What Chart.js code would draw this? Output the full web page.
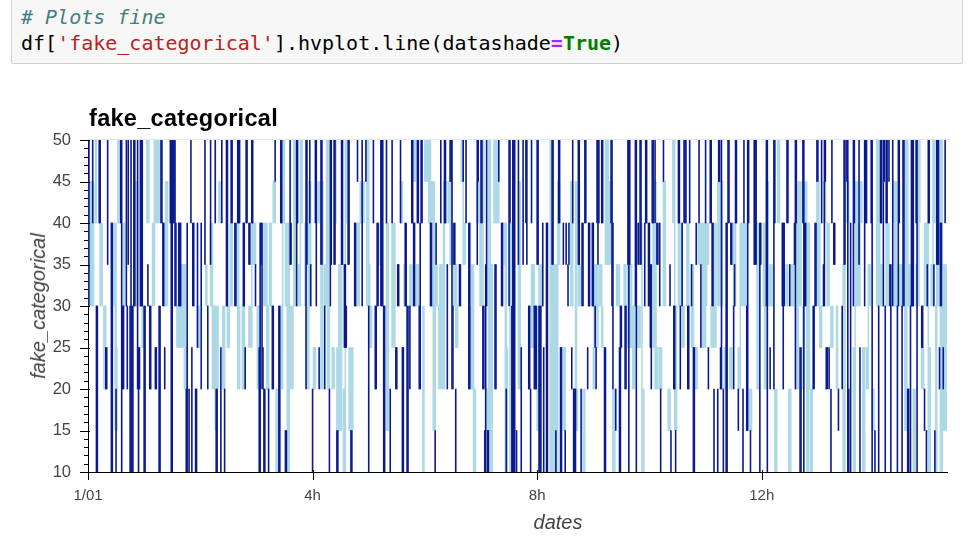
<!DOCTYPE html>
<html><head><meta charset="utf-8">
<script src="https://cdn.jsdelivr.net/npm/chart.js@4/dist/chart.umd.min.js"></script>
<style>
html,body{margin:0;padding:0;background:#fff;width:974px;height:546px;overflow:hidden;position:relative;}
#cell{position:absolute;left:11px;top:-12px;width:950px;height:74px;background:#f7f7f7;border:1px solid #cfcfcf;border-radius:2px;}
.code{position:absolute;left:9px;font-family:"DejaVu Sans Mono",monospace;font-size:20px;white-space:pre;color:#000;line-height:26px;}
#l1{top:15px;color:#408080;font-style:italic;}
#l2{top:41px;}
.s{color:#BA2121}.o{color:#AA22FF;font-weight:bold}.k{color:#008000;font-weight:bold}
#title{position:absolute;left:89px;top:106px;font-family:"Liberation Sans",Arial,sans-serif;font-weight:bold;font-size:23.5px;letter-spacing:.3px;line-height:24px;color:#000;white-space:nowrap;}
.axl{position:absolute;font-family:"Liberation Sans",Arial,sans-serif;font-style:italic;font-size:20px;color:#444;white-space:nowrap;line-height:22px;}
#ylab{left:38px;top:306px;transform:translate(-50%,-50%) rotate(-90deg);}
#xlab{left:558px;top:522px;transform:translate(-50%,-50%);}
canvas{position:absolute;left:0;top:0;}
</style></head>
<body>
<div id="cell"><div class="code" id="l1"># Plots fine</div><div class="code" id="l2">df[<span class="s">'fake_categorical'</span>].hvplot.line(datashade<span class="o">=</span><span class="k">True</span>)</div></div>
<canvas id="c" width="974" height="546"></canvas>
<div id="title">fake_categorical</div>
<div class="axl" id="ylab">fake_categorical</div>
<div class="axl" id="xlab">dates</div>
<script>
// x axis: minutes since 1/01 00:00
const xMaxMinutes = 918;
const xTickMinutes = [0, 240, 480, 720];
const xTickLabels = ['1/01', '4h', '8h', '12h'];
const yTickValues = [10, 15, 20, 25, 30, 35, 40, 45, 50];

// vertical strokes where the line passed once (light): [startMinute, minutes, low, high]
const lightRuns = [
[1,6,30,45],[8,2,40,50],[13,3,30,40],[17,3,20,30],[28,3,30,40],[29,3,15,25],[32,3,40,50],[38,2,30,40],[51,3,30,45],[58,2,25,30],[63,3,40,50],[69,3,30,40],[71,6,40,50],[83,3,30,45],[95,7,25,30],[99,6,25,35],[103,3,20,25],[117,3,25,30],[126,2,30,35],[131,3,30,40],[133,7,20,30],[136,1,15,20],[140,3,40,45],[144,3,20,30],[149,3,25,30],
[198,3,40,45],[208,3,40,50],[220,3,30,50],[227,3,40,50],[236,3,30,45],[246,6,40,45],[255,3,40,50],[264,2,40,50],[275,2,40,50],[291,5,40,45],[298,3,40,50],
[152,3,30,40],[159,3,30,40],[175,5,35,40],[188,4,30,40],[194,3,30,40],[211,5,30,40],[225,3,30,35],[232,3,30,40],[253,3,30,35],[268,4,30,35],[288,3,30,40],[298,4,30,35],
[160,3,20,30],[165,3,20,30],[172,4,25,30],[181,3,20,30],[191,3,20,30],[201,3,10,20],[207,2,20,30],[213,3,10,20],[216,4,20,30],[234,3,20,30],[241,3,20,25],[249,3,20,30],[256,3,20,30],[261,3,20,25],[266,6,15,25],[273,3,10,20],[279,5,15,25],[301,3,25,30],
[334,3,40,45],[347,4,45,50],[360,7,45,50],[364,7,40,45],[380,4,40,45],[385,5,40,45],[399,3,45,50],[416,3,40,45],[421,3,40,50],[428,3,40,50],[434,6,40,50],
[310,2,35,40],[319,3,15,40],[325,4,25,40],[338,3,30,35],[344,3,30,35],[351,3,30,35],[368,3,30,40],[371,3,30,35],[376,6,20,35],[387,3,35,40],[391,4,30,35],[401,3,35,40],[410,3,30,35],[419,4,30,40],[428,5,30,35],[445,3,35,40],[451,3,35,40],
[358,2,10,30],[369,3,15,25],[375,5,20,30],[393,3,25,30],[409,3,20,30],[412,3,10,20],[426,4,15,20],[430,3,10,30],[446,3,10,25],[451,3,10,25],
[460,3,20,45],[494,3,40,50],[502,3,35,45],[516,3,30,45],[521,2,40,45],[553,4,35,50],[557,4,35,45],[605,3,35,45],
[474,4,25,35],[482,4,30,35],[494,9,10,35],[524,3,30,35],[541,5,25,35],[547,3,30,35],[565,4,30,35],[573,3,30,35],[577,5,25,35],[587,4,25,30],[591,2,35,40],[604,3,25,40],
[480,3,15,30],[508,3,15,25],[521,3,15,20],[529,3,10,20],[540,2,20,25],[549,2,25,30],[561,3,10,20],[582,3,20,30],[592,3,10,20],[606,4,20,25],
[615,3,30,45],[625,3,40,50],[673,6,30,45],[725,3,40,45],[737,3,40,50],[759,4,30,45],
[631,4,30,40],[640,3,30,40],[645,3,25,35],[652,12,35,40],[657,5,30,35],[670,2,30,40],[690,3,30,40],[697,7,30,40],[715,3,30,40],[722,3,30,40],[727,5,30,35],[746,3,30,35],[752,3,30,35],[757,3,30,40],
[611,3,20,25],[620,3,15,20],[627,3,15,30],[635,3,25,30],[649,3,20,25],[657,4,25,30],[666,6,25,30],[680,4,20,25],[686,3,20,25],[695,3,20,25],[707,3,15,20],[715,3,20,25],[723,3,20,30],[734,3,10,20],[749,3,10,20],[757,3,20,25],
[766,3,30,45],[779,3,40,45],[786,3,40,45],[811,3,40,45],[820,3,40,45],[825,3,40,45],[843,4,30,50],[861,4,40,45],[873,4,40,50],[887,3,40,50],[903,3,40,50],[911,3,40,50],
[768,4,20,40],[778,5,30,40],[790,3,30,40],[794,3,25,30],[800,2,20,30],[807,3,30,35],[821,5,30,40],[834,3,30,35],[846,5,30,35],[853,4,30,40],[862,9,30,35],[873,7,30,35],[885,4,30,35],[894,5,30,40],[901,3,30,35],[907,3,30,40],[914,4,15,35],
[764,2,20,30],[768,3,10,20],[772,3,10,20],[782,3,25,30],[807,3,10,20],[818,3,10,25],[828,3,10,25],[832,3,20,25],[838,3,15,20],[873,3,15,25],[882,3,10,20],[891,3,20,25],[898,3,10,25],[906,2,10,30],[911,3,10,20]
];

// vertical strokes where the line overlapped itself (dark): [startMinute, minutes, low, high]
const darkRuns = [
[1,1,30,50],[5,1,40,50],[9,2,10,30],[12,2,40,50],[19,2,20,25],[21,1,35,50],[25,2,10,40],[30,1,10,20],[35,2,40,50],[36,1,10,20],[37,2,20,30],[41,1,30,50],[42,1,20,30],[43,1,35,50],[45,4,10,30],[46,1,40,50],[49,2,30,50],[53,3,20,25],[54,1,10,20],[53,1,40,50],[56,3,30,50],[60,2,10,30],[64,1,30,35],[66,2,20,30],[72,2,20,25],[76,2,10,30],[78,2,40,50],[80,2,30,40],[82,1,20,25],[88,6,40,50],[89,2,10,30],[93,2,30,40],[97,3,30,40],[105,2,10,20],[106,1,35,40],[108,1,10,20],[110,1,40,50],[111,1,10,25],[112,2,30,40],[115,2,10,20],[117,1,25,40],[121,1,20,40],[125,1,35,50],[128,1,20,30],[131,1,35,50],[136,1,40,50],[137,2,10,20],[142,1,10,25],[143,1,40,50],[146,1,10,20],[148,2,30,50],
[153,2,40,50],[160,3,40,50],[169,2,40,50],[175,2,40,50],[200,1,45,50],[206,2,40,50],[216,1,35,50],[223,2,40,50],[233,2,35,50],[237,1,40,50],[243,2,40,50],[249,2,35,50],[259,2,35,50],[263,2,35,50],[271,2,35,50],[278,2,35,50],[288,1,45,50],[293,1,30,50],[297,1,45,50],
[157,2,30,40],[166,2,30,40],[172,2,35,40],[179,1,30,35],[184,3,35,40],[217,1,35,40],[223,1,30,35],[238,1,30,35],[244,1,30,35],[259,1,30,35],[274,2,25,35],[285,2,30,40],
[168,1,20,25],[183,2,10,25],[186,2,20,25],[188,2,10,20],[193,1,10,20],[197,2,20,30],[204,2,10,30],[211,2,10,15],[233,1,20,30],[240,1,10,20],[247,1,20,25],[253,1,20,30],[258,1,10,20],[266,2,10,15],[275,2,25,30],[281,2,10,15],[300,1,10,30],
[305,1,40,50],[313,3,30,50],[319,1,40,50],[325,1,40,50],[334,1,40,50],[346,2,40,50],[352,2,40,50],[356,2,40,50],[377,1,40,50],[381,2,40,50],[387,3,45,50],[401,1,45,50],[404,1,40,50],[416,2,45,50],[420,2,40,50],[426,1,45,50],[439,1,45,50],[450,2,40,50],[454,3,30,50],
[309,2,30,40],[331,2,30,35],[339,2,30,40],[348,2,30,40],[355,1,35,40],[366,2,30,40],[372,1,35,40],[384,1,30,35],[391,2,35,40],[397,2,30,35],[407,2,35,40],[416,1,35,40],[425,2,30,35],[435,2,30,35],[442,2,30,40],[450,1,30,35],
[307,2,20,30],[316,2,10,30],[323,1,10,20],[329,2,20,25],[336,2,10,25],[341,2,10,30],[344,1,20,30],[354,2,20,30],[371,1,10,15],[384,1,20,30],[389,2,20,30],[393,1,10,20],[407,2,20,30],[422,2,20,30],[424,2,10,15],[427,2,10,15],[435,2,20,30],[447,1,10,20],[453,4,10,30],
[460,1,35,50],[465,1,35,50],[468,2,40,50],[474,1,40,50],[480,2,35,50],[496,2,35,50],[503,2,40,50],[518,1,40,50],[524,2,35,50],[531,2,40,50],[544,3,40,50],[549,2,40,50],[559,2,40,50],[577,3,35,50],[585,2,40,50],[590,2,35,50],[596,2,40,50],[603,2,40,50],[606,1,40,50],
[469,1,35,40],[481,1,35,40],[486,1,30,40],[490,2,25,40],[508,1,35,40],[511,1,35,40],[513,1,30,35],[514,1,35,40],[528,2,30,40],[535,2,30,40],[539,2,30,40],[542,1,25,30],[545,1,35,40],[560,2,30,40],[569,2,25,30],[574,2,20,30],[585,1,30,35],[588,1,35,40],[595,1,30,40],[599,2,30,40],[601,2,25,35],[608,2,35,40],
[458,1,10,15],[463,1,10,25],[471,2,20,30],[473,1,10,20],[477,3,20,30],[482,3,10,30],[487,1,10,25],[490,2,10,30],[500,1,10,15],[505,2,10,25],[510,1,10,15],[517,1,20,25],[519,3,10,20],[527,1,10,20],[534,1,20,25],[543,1,20,25],[552,2,10,25],[561,1,20,25],[564,1,15,20],[568,2,10,25],[578,1,10,25],[586,1,10,20],[602,1,20,25],
[615,1,45,50],[631,2,40,50],[637,3,40,50],[643,1,40,50],[653,1,40,50],[660,1,40,50],[665,2,40,50],[674,2,45,50],[677,1,40,50],[684,2,40,50],[692,2,40,50],[701,1,40,50],[705,2,40,50],[712,3,35,50],[725,2,45,50],[733,2,40,50],[747,2,40,50],[756,2,40,50],
[611,1,30,40],[622,1,30,35],[635,1,30,40],[645,1,30,35],[650,1,35,40],[655,1,30,35],[667,2,30,40],[682,2,30,40],[687,2,35,40],[691,1,30,35],[705,1,30,35],[718,2,35,40],[725,1,30,35],[733,1,30,40],[742,3,30,40],[750,1,30,35],[755,2,35,40],
[612,1,10,20],[623,1,10,15],[626,2,20,30],[628,1,10,15],[633,1,20,30],[641,2,20,30],[647,2,10,25],[655,1,25,30],[663,1,20,25],[669,1,10,20],[673,1,10,20],[676,2,20,25],[679,1,10,20],[682,2,10,30],[690,1,20,30],[695,1,15,20],[700,1,10,20],[704,2,15,30],[708,1,10,15],[718,1,10,20],[726,1,10,20],[729,1,20,25],[733,1,20,25],[743,1,20,25],[756,1,20,25],[761,2,10,25],
[764,2,40,50],[779,2,45,50],[784,1,40,50],[787,2,45,50],[795,1,40,50],[808,2,35,50],[811,2,45,50],[818,2,40,50],[824,1,35,50],[830,3,40,50],[837,2,40,50],[847,2,40,50],[850,2,45,50],[853,2,40,50],[856,1,45,50],[860,1,30,50],[866,2,40,50],[871,2,30,50],[880,3,30,50],[885,2,40,50],[898,2,40,50],[907,3,35,50],[916,1,40,50],
[766,2,30,40],[777,2,30,40],[786,2,30,35],[797,2,35,40],[806,1,20,30],[815,1,10,40],[818,1,30,35],[830,1,30,40],[850,1,30,35],[857,2,30,35],[866,1,30,35],[882,1,30,35],[891,2,25,30],[897,1,30,35],[904,1,30,35],[911,2,30,40],
[765,1,10,20],[775,2,20,30],[789,2,20,25],[792,1,20,25],[794,1,10,20],[802,1,15,20],[812,2,10,20],[825,1,10,25],[838,1,10,30],[841,1,10,15],[845,1,10,30],[852,1,10,30],[858,1,10,30],[865,1,10,30],[870,1,10,30],[876,2,10,20],[879,1,10,30],[886,1,10,30],[894,1,15,20],[896,1,10,15],[905,1,10,15],[910,1,20,25],[914,1,20,25]
];

function toColumns(runs) {
  const lo = new Map(), hi = new Map();
  for (const [t, n, a, b] of runs) {
    for (let m = t; m < t + n; m++) {
      if (m < 0 || m > xMaxMinutes) continue;
      lo.set(m, Math.min(lo.has(m) ? lo.get(m) : a, a));
      hi.set(m, Math.max(hi.has(m) ? hi.get(m) : b, b));
    }
  }
  return [...lo.keys()].sort((p, q) => p - q).map(m => ({x: m, y: [lo.get(m), hi.get(m)]}));
}

const LIGHT = '#add8e6', DARK = '#0b1a8f';

const axisTicks = {
  id: 'axisTicks',
  afterDraw(chart) {
    const g = chart.ctx, a = chart.chartArea, ys = chart.scales.y, xs = chart.scales.x;
    g.save();
    g.strokeStyle = '#000'; g.lineWidth = 1;
    const yMin = yTickValues[0], yMax = yTickValues[yTickValues.length - 1];
    for (let v = yMin; v <= yMax; v++) {
      const py = Math.round(ys.getPixelForValue(v)) + 0.5;
      const major = yTickValues.includes(v);
      g.beginPath();
      g.moveTo(a.left - (major ? 8 : 4), py);
      g.lineTo(a.left + (major ? 2 : 0), py);
      g.stroke();
    }
    for (const m of xTickMinutes) {
      const px = Math.round(xs.getPixelForValue(m)) + 0.5;
      g.beginPath(); g.moveTo(px, a.bottom - 2); g.lineTo(px, a.bottom + 8); g.stroke();
    }
    g.strokeStyle = '#e5e5e5';
    g.beginPath(); g.moveTo(a.left, a.top - 0.5); g.lineTo(a.right + 3, a.top - 0.5); g.stroke();
    g.restore();
  }
};

new Chart(document.getElementById('c'), {
  type: 'bar',
  data: {
    datasets: [
      {label: 'overlap', data: toColumns(darkRuns), backgroundColor: DARK, borderWidth: 0, grouped: false, barPercentage: 1, categoryPercentage: 1},
      {label: 'single', data: toColumns(lightRuns), backgroundColor: LIGHT, borderWidth: 0, grouped: false, barPercentage: 1, categoryPercentage: 1}
    ]
  },
  options: {
    responsive: false, animation: false, devicePixelRatio: 1,
    layout: {padding: {top: 140, right: 27, left: 0, bottom: 0}},
    plugins: {legend: {display: false}, tooltip: {enabled: false}, title: {display: false}},
    scales: {
      x: {
        type: 'linear', min: 0, max: xMaxMinutes, offset: false,
        grid: {display: true, drawOnChartArea: false, drawTicks: false},
        border: {display: true, color: '#000', width: 1},
        afterBuildTicks(s) { s.ticks = xTickMinutes.map(v => ({value: v})); },
        ticks: {
          autoSkip: false, maxRotation: 0, minRotation: 0, padding: 15,
          color: '#444', font: {family: 'Liberation Sans', size: 15},
          callback: function (v) {
            let best = 0;
            for (let i = 1; i < xTickMinutes.length; i++) if (Math.abs(xTickMinutes[i] - v) < Math.abs(xTickMinutes[best] - v)) best = i;
            return xTickLabels[best];
          }
        },
        afterFit(s) { s.height = 74; }
      },
      y: {
        min: yTickValues[0], max: yTickValues[yTickValues.length - 1],
        grid: {display: true, drawOnChartArea: false, drawTicks: false},
        border: {display: true, color: '#000', width: 1},
        afterBuildTicks(s) { s.ticks = yTickValues.map(v => ({value: v})); },
        ticks: {autoSkip: false, padding: 17, color: '#444', font: {family: 'Liberation Sans', size: 16.5}},
        afterFit(s) { s.width = 88; }
      }
    }
  },
  plugins: [axisTicks]
});
</script>
</body></html>
